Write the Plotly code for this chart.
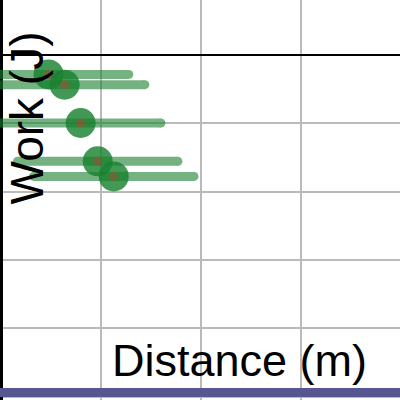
"""Distance vs work scatter with horizontal uncertainty bars (Plotly recreation)."""

import plotly.graph_objects as go

# values
distance = [0.48, 0.64, 0.80, 0.97, 1.13]
work = [-0.29, -0.44, -1.0, -1.56, -1.78]
distance_err = [0.8, 0.8, 0.8, 0.8, 0.8]

x_title = "Distance (m)"
y_title = "Work (J)"

GREEN = "#18812f"
FONT = "Liberation Sans, Arial, sans-serif"


def build() -> go.Figure:
    fig = go.Figure()

    # horizontal bars, one trace so the group opacity does not stack;
    # end markers give the round caps
    bx, by = [], []
    for x, y, e in zip(distance, work, distance_err):
        bx += [x - e, x + e, None]
        by += [y, y, None]
    fig.add_trace(go.Scatter(
        x=bx, y=by, mode="lines+markers",
        line=dict(color=GREEN, width=9),
        marker=dict(color=GREEN, size=9, line=dict(width=0)),
        opacity=0.6, hoverinfo="skip", showlegend=False,
    ))
    # big translucent circles
    fig.add_trace(go.Scatter(
        x=distance, y=work, mode="markers",
        marker=dict(color=GREEN, size=30, opacity=0.82, line=dict(width=0)),
        showlegend=False,
    ))
    # small red centres
    fig.add_trace(go.Scatter(
        x=distance, y=work, mode="markers",
        marker=dict(color="#dc3232", size=9, opacity=0.4, line=dict(width=0)),
        showlegend=False,
    ))

    fig.update_layout(
        width=400, height=400, autosize=False,
        margin=dict(l=0, r=0, t=0, b=0),
        paper_bgcolor="white", plot_bgcolor="white",
        font=dict(family=FONT, color="black"),
        xaxis=dict(
            range=[-0.004, 3.984], dtick=1, showticklabels=False, ticks="",
            showgrid=True, gridcolor="#bababa", gridwidth=1.5,
            zeroline=True, zerolinecolor="black", zerolinewidth=6,
            showline=True, linecolor="#585690", linewidth=9,
            anchor="free", position=0.021, layer="below traces",
        ),
        yaxis=dict(
            range=[-5.044, 0.796], dtick=1, showticklabels=False, ticks="",
            showgrid=True, gridcolor="#bababa", gridwidth=1.5,
            zeroline=True, zerolinecolor="black", zerolinewidth=2,
            showline=False, layer="below traces",
        ),
        annotations=[
            dict(text=x_title, xref="paper", yref="paper", x=0.5975, y=0.098,
                 xanchor="center", yanchor="middle", showarrow=False,
                 font=dict(size=45, family=FONT, color="black")),
            dict(text=y_title, xref="paper", yref="paper", x=0.067, y=0.706,
                 xanchor="center", yanchor="middle", textangle=-90, showarrow=False,
                 font=dict(size=46, family=FONT, color="black")),
        ],
    )
    return fig


def main() -> None:
    fig = build()
    # drop the browser's default page margin so the figure sits at the corner
    fig.write_html("out.html", config={"displayModeBar": False},
                   post_script="document.body.style.margin='0';")


if __name__ == "__main__":
    main()
